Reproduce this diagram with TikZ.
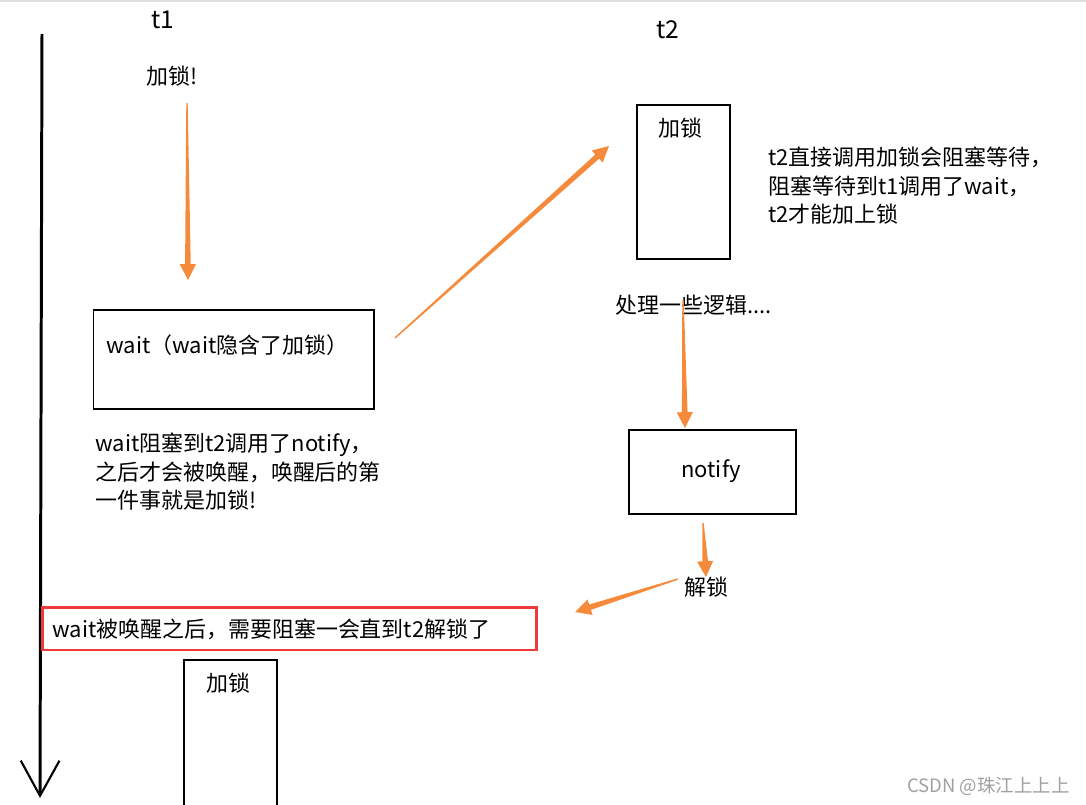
\documentclass[tikz,border=0pt]{standalone}
\usepackage{fontspec}
\setmainfont{Noto Sans CJK SC}
\usetikzlibrary{calc,arrows.meta}

\definecolor{arroworange}{RGB}{245,138,58}
\definecolor{boxred}{RGB}{238,58,58}
\definecolor{markgray}{RGB}{160,160,160}

% tapered orange arrow, thin at the start, filled head at the end
\newcommand{\taperarrow}[2]{%
  \coordinate (hb) at ($(#2)!9pt!(#1)$);
  \fill[arroworange] ($(#1)!0.4pt!90:(#2)$) -- ($(hb)!1.6pt!-90:(#1)$)
    -- ($(hb)!4.6pt!-90:(#1)$) -- (#2) -- ($(hb)!4.6pt!90:(#1)$)
    -- ($(hb)!1.6pt!90:(#1)$) -- ($(#1)!0.4pt!-90:(#2)$) -- cycle;}

\tikzset{
  txt/.style={inner sep=0pt, font=\fontsize{12.5}{16.2}\selectfont},
  box/.style={draw, line width=0.6pt, inner sep=0pt},
}

\begin{document}
\begin{tikzpicture}[x=0.02cm, y=-0.02cm]
  \useasboundingbox (0,0) rectangle (1086,805);
  \draw[gray!25, line width=0.8pt] (0,1) -- (1086,1);

  % time line of t1
  \coordinate (tstart) at (42,34);
  \coordinate (tend) at (40,798);
  \draw[line width=1.7pt, -{Straight Barb[length=20pt, width=22pt, line width=1.2pt]}] (tstart) -- (tend);

  \node[txt, font=\fontsize{14}{16}\selectfont] (t1) at (163,20) {t1};
  \node[txt, font=\fontsize{14}{16}\selectfont] (t2) at (668,30) {t2};

  % t1 side
  \node[txt] (lockA) at (172,76) {加锁!};
  \node[box, minimum width=5.62cm, minimum height=1.98cm] (waitbox) at (233.5,359.5) {};
  \node[txt, anchor=west] (waittxt) at (106,345) {wait（wait隐含了加锁）};
  \node[txt, anchor=west, align=left] (waitnote) at (95,472)
    {wait阻塞到t2调用了notify，\\之后才会被唤醒，唤醒后的第\\一件事就是加锁!};
  \node[draw=boxred, line width=1.7pt, minimum width=9.9cm, minimum height=0.86cm] (redbox) at (289.5,628.5) {};
  \node[txt, anchor=west] (redtxt) at (52,629) {wait被唤醒之后，需要阻塞一会直到t2解锁了};
  \draw[line width=0.6pt] (184,805) |- (277,660) -- (277,805);
  \node[txt] (lockC) at (228,683) {加锁};

  % t2 side
  \node[box, minimum width=1.86cm, minimum height=3.08cm] (lockbox) at (683.5,182) {};
  \node[txt] (lockB) at (680,128) {加锁};
  \node[txt, anchor=west, align=left] (t2note) at (768,186)
    {t2直接调用加锁会阻塞等待，\\阻塞等待到t1调用了wait，\\t2才能加上锁};
  \node[txt, anchor=west] (logic) at (615,305) {处理一些逻辑....};
  \node[box, minimum width=3.34cm, minimum height=1.68cm] (notifybox) at (712.5,472) {};
  \node[txt] (notifytxt) at (711,471) {notify};
  \node[txt] (unlock) at (706,587) {解锁};

  % orange arrows
  \coordinate (a1s) at (187,103);  \coordinate (a1e) at (188,280);
  \coordinate (a2s) at (395,338);  \coordinate (a2e) at (609,146);
  \coordinate (a3s) at (683,300);  \coordinate (a3e) at (685,428);
  \coordinate (a4s) at (703,523);  \coordinate (a4e) at (706,577);
  \coordinate (a5s) at (678,579);  \coordinate (a5e) at (575,612);
  \taperarrow{a1s}{a1e}
  \taperarrow{a2s}{a2e}
  \taperarrow{a3s}{a3e}
  \taperarrow{a4s}{a4e}
  \taperarrow{a5s}{a5e}

  \node[txt, anchor=east, text=markgray, font=\fontsize{10.5}{12}\selectfont] (mark) at (1070,786) {CSDN @珠江上上上};
\end{tikzpicture}
\end{document}
